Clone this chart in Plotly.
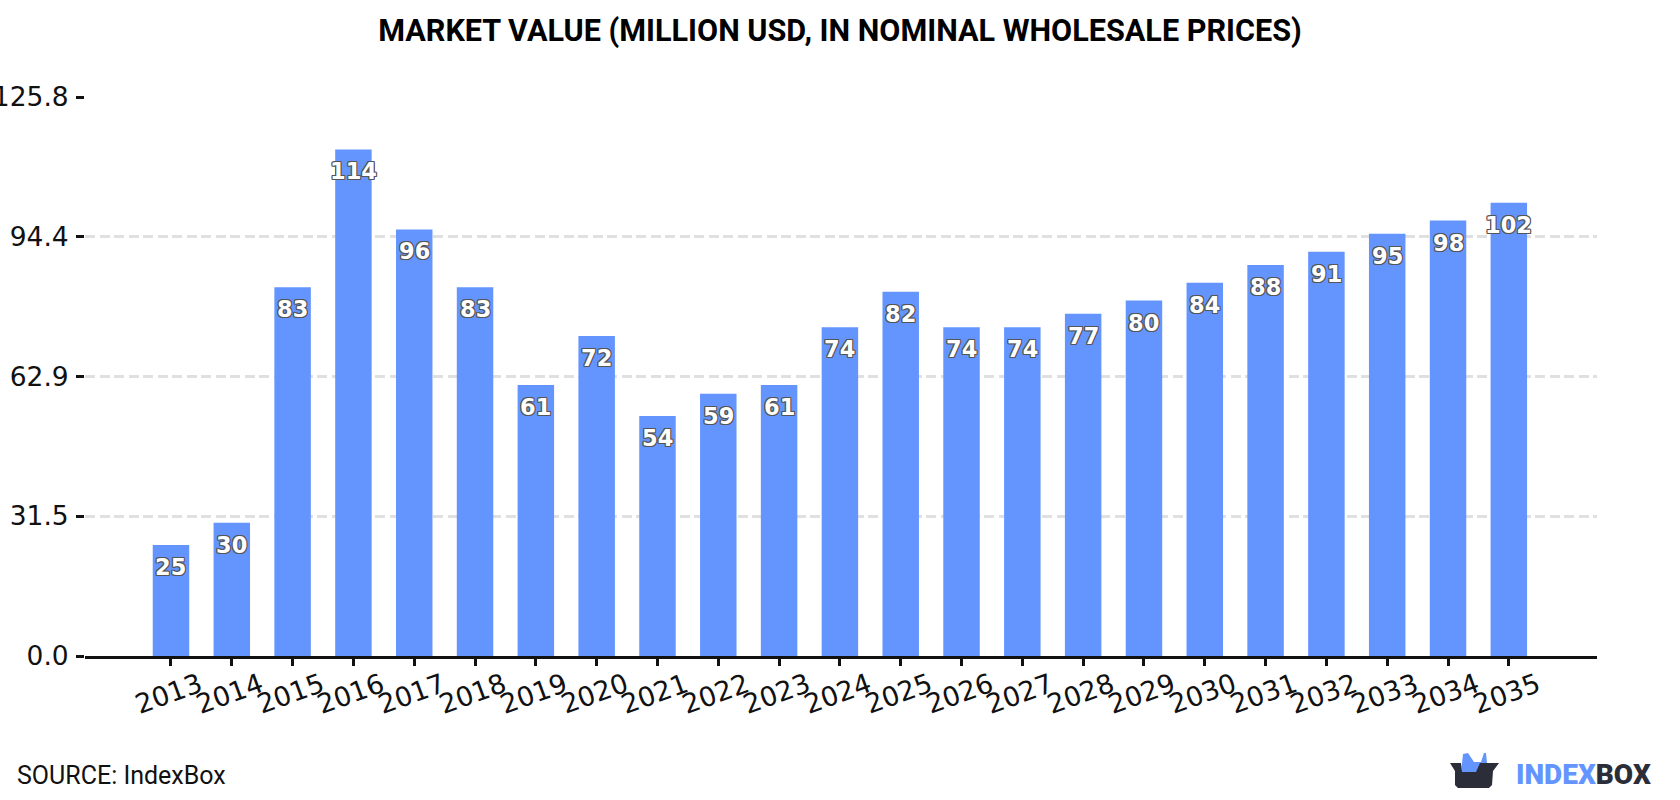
import plotly.graph_objects as go

years = list(range(2013, 2036))
market_value = [25, 30, 83, 114, 96, 83, 61, 72, 54, 59, 61, 74, 82, 74, 74, 77, 80, 84, 88, 91, 95, 98, 102]
y_ticks = [0.0, 31.5, 62.9, 94.4, 125.8]
y_tick_labels = ["0.0", "31.5", "62.9", "94.4", "125.8"]

BAR_BLUE = "#6495FF"
DARK = "#2B2D38"
OUTLINE = "#555555"
halo = ",".join(f"{dx}px {dy}px 0 {OUTLINE}" for dx, dy in
                [(-1, 0), (1, 0), (0, -1), (0, 1), (-1, -1), (1, -1), (-1, 1), (1, 1)])

# Plot area edges in page pixels
LEFT, RIGHT, TOP, BOTTOM = 85, 1597, 96.5, 656


def px(x):
    return (x - LEFT) / (RIGHT - LEFT)


def py(y):
    return (BOTTOM - y) / (BOTTOM - TOP)


fig = go.Figure(go.Bar(x=years, y=market_value, width=0.6, marker=dict(color=BAR_BLUE, line=dict(width=0)),
                       hoverinfo="x+y"))

annotations = []
# Value labels sit just under each bar top
for year, value in zip(years, market_value):
    annotations.append(dict(x=year, y=value, xref="x", yref="y", text=str(value), showarrow=False,
                            yshift=-22, xanchor="center", yanchor="middle",
                            font=dict(family="DejaVu Sans", size=22.5, color="white", weight="bold", shadow=halo)))
# Slanted year labels, centred under their ticks
for year in years:
    annotations.append(dict(x=year, y=0, xref="x", yref="y", text=str(year), showarrow=False, textangle=-20,
                            yshift=-37, xshift=-2.5, xanchor="center", yanchor="middle",
                            font=dict(family="DejaVu Sans", size=27, color="#111111")))

annotations += [
    dict(x=px(15), y=py(776), xref="paper", yref="paper", showarrow=False, xanchor="left", yanchor="middle",
         text="SOURCE: IndexBox", font=dict(family="Roboto", size=25, color="#111111")),
    dict(x=px(1514), y=py(775), xref="paper", yref="paper", showarrow=False, xanchor="left", yanchor="middle",
         text=f'<span style="color:{BAR_BLUE}">INDEX</span><span style="color:{DARK}">BOX</span>',
         font=dict(family="Roboto", size=28, weight=900)),
]


def path(points):
    return "M " + " L ".join(f"{px(x):.5f},{py(y):.5f}" for x, y in points) + " Z"


# Brand mark: open box with blue contents
logo_shapes = [
    dict(type="path", xref="paper", yref="paper", line=dict(width=0), fillcolor=BAR_BLUE,
         path=path([(1461, 773), (1463, 754), (1468, 753), (1474, 762), (1481, 762), (1484, 753), (1486, 753), (1487, 763), (1486, 772), (1476, 773)])),
    dict(type="path", xref="paper", yref="paper", line=dict(width=0), fillcolor=DARK,
         path=path([(1450, 763), (1461, 763), (1462, 772), (1476, 772), (1480, 763), (1499, 763), (1493, 771), (1492, 785), (1489, 788), (1458, 788), (1455, 785), (1455, 771)])),
]

fig.update_layout(
    width=1680, height=800, autosize=False,
    paper_bgcolor="white", plot_bgcolor="white", showlegend=False,
    margin=dict(l=LEFT, r=1680 - RIGHT, t=TOP, b=800 - BOTTOM, pad=0),
    title=dict(text="MARKET VALUE (MILLION USD, IN NOMINAL WHOLESALE PRICES)", x=0.5, xanchor="center",
               y=1 - 30 / 800, yanchor="middle", xref="container", yref="container",
               font=dict(family="Roboto", size=30.6, color="black", weight="bold")),
    annotations=annotations, shapes=logo_shapes,
    xaxis=dict(range=[2011.586, 2036.45], tickmode="array", tickvals=years, showgrid=False,
               showticklabels=False, ticks="outside", ticklen=7, tickwidth=2.5, tickcolor="#111111",
               showline=True, linecolor="#111111", linewidth=3, zeroline=False, automargin=False),
    yaxis=dict(range=[0, 125.8], tickmode="array", tickvals=y_ticks, ticktext=y_tick_labels,
               tickfont=dict(family="DejaVu Sans", size=26.5, color="#111111"), ticklabelstandoff=2,
               ticks="outside", ticklen=8, tickwidth=2.5, tickcolor="#111111",
               showgrid=True, gridcolor="#E0E0E0", gridwidth=3, griddash="10px,4.5px",
               showline=False, zeroline=False, automargin=False),
)

fig.write_html("out.html", config={"displayModeBar": False})
